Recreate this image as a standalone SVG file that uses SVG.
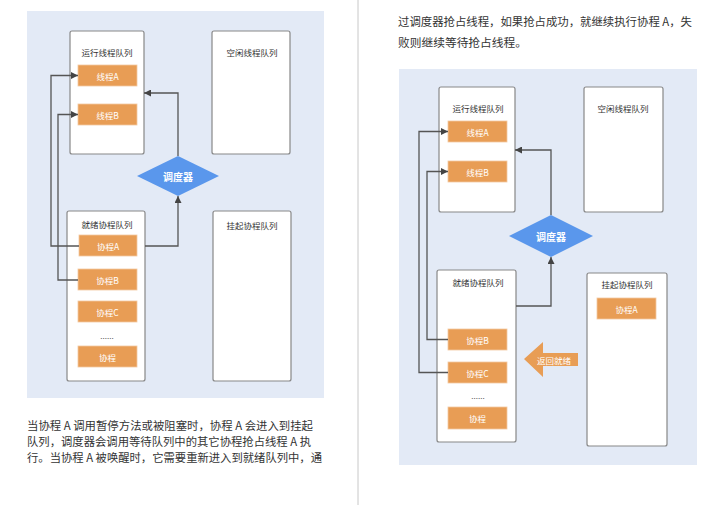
<svg xmlns="http://www.w3.org/2000/svg" width="720" height="506" viewBox="0 0 720 506">
<style>
text{font-family:"Noto Sans CJK SC","Noto Sans",sans-serif}
.bg{fill:#e3eaf6}
.box{fill:#fff;stroke:#888;stroke-width:1.2}
.ttl{font-size:8.5px;fill:#333;text-anchor:middle;dominant-baseline:central}
.item{fill:#e89d55;stroke:#f3c9a0;stroke-width:0.8}
.itx{font-size:8.5px;fill:#fff;text-anchor:middle;dominant-baseline:central}
.dia{fill:#5a97ec}
.dtx{font-size:10px;fill:#fff;font-weight:bold;text-anchor:middle;dominant-baseline:central}
.con{fill:none;stroke:#555;stroke-width:1.3}
.para{font-size:11.3px;fill:#333}
.dots{font-size:8px;fill:#555;text-anchor:middle}
</style>
<defs>
<marker id="ah" viewBox="0 0 10 10" refX="10" refY="5" markerWidth="7" markerHeight="7" markerUnits="userSpaceOnUse" orient="auto"><path d="M0,0 L10,5 L0,10 z" fill="#444"/></marker>
</defs>
<rect width="720" height="506" fill="#fff"/>
<line x1="358" y1="0" x2="358" y2="505" stroke="#c8c8c8" stroke-width="1"/>

<!-- Left diagram -->
<rect class="bg" x="27" y="11" width="297" height="387"/>
<g id="l-run"><rect class="box" x="70" y="31" width="74" height="123" rx="2"/><text class="ttl" x="107" y="52">运行线程队列</text></g>
<g id="l-tA"><rect class="item" x="78" y="65" width="59" height="21"/><text class="itx" x="107.5" y="75.5">线程A</text></g>
<g id="l-tB"><rect class="item" x="78" y="104" width="59" height="21"/><text class="itx" x="107.5" y="114.5">线程B</text></g>
<g id="l-idle"><rect class="box" x="212" y="31" width="78" height="123" rx="2"/><text class="ttl" x="252" y="52">空闲线程队列</text></g>
<g id="l-sched"><path class="dia" d="M178,156 L219,176 L178,196 L137,176 z"/><text class="dtx" x="178" y="176">调度器</text></g>
<g id="l-ready"><rect class="box" x="67" y="211" width="78" height="170" rx="2"/><text class="ttl" x="107" y="224">就绪协程队列</text></g>
<g id="l-cA"><rect class="item" x="79" y="235" width="58" height="21"/><text class="itx" x="108" y="245.5">协程A</text></g>
<g id="l-cB"><rect class="item" x="78" y="269" width="59" height="21"/><text class="itx" x="107.5" y="279.5">协程B</text></g>
<g id="l-cC"><rect class="item" x="78" y="301" width="59" height="21"/><text class="itx" x="107.5" y="311.5">协程C</text></g>
<g id="l-dots"><text class="dots" x="107" y="339">......</text></g>
<g id="l-cN"><rect class="item" x="78" y="346" width="59" height="21"/><text class="itx" x="107.5" y="356.5">协程</text></g>
<g id="l-susp"><rect class="box" x="213" y="211" width="78" height="170" rx="2"/><text class="ttl" x="252" y="225">挂起协程队列</text></g>
<g id="l-connectors">
<path class="con" d="M79,246 H51 V75.5 H78" marker-end="url(#ah)"/>
<path class="con" d="M78,280 H58 V114.5 H78" marker-end="url(#ah)"/>
<path class="con" d="M145,246 H178 V196" marker-end="url(#ah)"/>
<path class="con" d="M178,156 V93 H144" marker-end="url(#ah)"/>
</g>

<text class="para" x="27" y="430" textLength="286" lengthAdjust="spacingAndGlyphs">当协程 A 调用暂停方法或被阻塞时，协程 A 会进入到挂起</text>
<text class="para" x="27" y="446" textLength="284" lengthAdjust="spacingAndGlyphs">队列，调度器会调用等待队列中的其它协程抢占线程 A 执</text>
<text class="para" x="27" y="461.5" textLength="295" lengthAdjust="spacingAndGlyphs">行。当协程 A 被唤醒时，它需要重新进入到就绪队列中，通</text>

<text class="para" x="398" y="26" textLength="294" lengthAdjust="spacingAndGlyphs">过调度器抢占线程，如果抢占成功，就继续执行协程 A，失</text>
<text class="para" x="398" y="47" textLength="129" lengthAdjust="spacingAndGlyphs">败则继续等待抢占线程。</text>

<!-- Right diagram -->
<rect class="bg" x="399" y="69" width="298" height="396"/>
<g id="r-run"><rect class="box" x="439" y="87" width="76" height="125" rx="2"/><text class="ttl" x="478" y="108">运行线程队列</text></g>
<g id="r-tA"><rect class="item" x="448" y="121" width="59" height="21"/><text class="itx" x="477.5" y="131.5">线程A</text></g>
<g id="r-tB"><rect class="item" x="448" y="161" width="59" height="21"/><text class="itx" x="477.5" y="171.5">线程B</text></g>
<g id="r-idle"><rect class="box" x="584" y="87" width="79" height="125" rx="2"/><text class="ttl" x="623" y="108">空闲线程队列</text></g>
<g id="r-sched"><path class="dia" d="M551,215 L593,236 L551,257 L509,236 z"/><text class="dtx" x="551" y="236">调度器</text></g>
<g id="r-ready"><rect class="box" x="437" y="270" width="79" height="172" rx="2"/><text class="ttl" x="478" y="282">就绪协程队列</text></g>
<g id="r-cB"><rect class="item" x="448" y="329" width="59" height="21"/><text class="itx" x="477.5" y="339.5">协程B</text></g>
<g id="r-cC"><rect class="item" x="448" y="362" width="59" height="21"/><text class="itx" x="477.5" y="372.5">协程C</text></g>
<g id="r-dots"><text class="dots" x="478" y="399">......</text></g>
<g id="r-cN"><rect class="item" x="448" y="407" width="59" height="22"/><text class="itx" x="477.5" y="418">协程</text></g>
<g id="r-susp"><rect class="box" x="587" y="273" width="80" height="173" rx="2"/><text class="ttl" x="627" y="284">挂起协程队列</text></g>
<g id="r-sA"><rect class="item" x="597" y="298" width="59" height="21"/><text class="itx" x="626.5" y="308.5">协程A</text></g>
<g id="r-back"><path d="M524,359 L543,342 L543,353 L578,353 L578,366 L543,366 L543,377 z" fill="#e89d55"/><text class="itx" x="554" y="359.5">返回就绪</text></g>
<g id="r-connectors">
<path class="con" d="M448,372.5 H419 V131.5 H448" marker-end="url(#ah)"/>
<path class="con" d="M448,339.5 H427 V171.5 H448" marker-end="url(#ah)"/>
<path class="con" d="M516,306 H551 V257" marker-end="url(#ah)"/>
<path class="con" d="M551,215 V150 H515" marker-end="url(#ah)"/>
</g>
</svg>
